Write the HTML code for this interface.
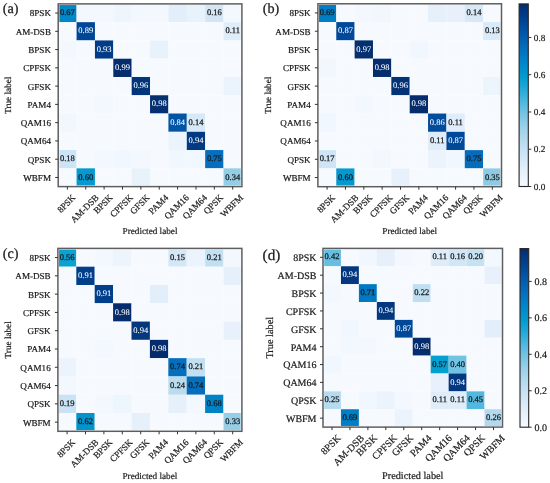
<!DOCTYPE html>
<html><head><meta charset="utf-8"><title>Confusion matrices</title>
<style>html,body{margin:0;padding:0;background:#fff;}svg{display:block;}text{text-rendering:geometricPrecision;}text{font-family:'Liberation Serif', 'Times New Roman', serif;}.k{stroke:#1a1a1a;stroke-width:0.2px;}.L{stroke:#1a1a1a;stroke-width:0.25px;}.w{stroke:#ffffff;stroke-width:0.05px;}.c{stroke:#1a1a1a;stroke-width:0.25px;}</style></head>
<body><svg width="550" height="483" viewBox="0 0 550 483">
<rect width="550" height="483" fill="#ffffff"/>
<rect x="58.2" y="3.9" width="18.42" height="18.32" fill="#0087c8"/>
<rect x="76.57" y="3.9" width="18.42" height="18.32" fill="#f3f8fe"/>
<rect x="94.94" y="3.9" width="18.42" height="18.32" fill="#f3f8fe"/>
<rect x="113.31" y="3.9" width="18.42" height="18.32" fill="#eef5fd"/>
<rect x="131.68" y="3.9" width="18.42" height="18.32" fill="#f3f8fe"/>
<rect x="150.05" y="3.9" width="18.42" height="18.32" fill="#f3f8fe"/>
<rect x="168.42" y="3.9" width="18.42" height="18.32" fill="#e2eefa"/>
<rect x="186.79" y="3.9" width="18.42" height="18.32" fill="#e8f2fb"/>
<rect x="205.16" y="3.9" width="18.42" height="18.32" fill="#d2e6f6"/>
<rect x="223.53" y="3.9" width="18.42" height="18.32" fill="#f3f8fe"/>
<rect x="58.2" y="22.17" width="18.42" height="18.32" fill="#f6faff"/>
<rect x="76.57" y="22.17" width="18.42" height="18.32" fill="#004696"/>
<rect x="94.94" y="22.17" width="18.42" height="18.32" fill="#f6faff"/>
<rect x="113.31" y="22.17" width="18.42" height="18.32" fill="#f6faff"/>
<rect x="131.68" y="22.17" width="18.42" height="18.32" fill="#f6faff"/>
<rect x="150.05" y="22.17" width="18.42" height="18.32" fill="#f6faff"/>
<rect x="168.42" y="22.17" width="18.42" height="18.32" fill="#f6faff"/>
<rect x="186.79" y="22.17" width="18.42" height="18.32" fill="#f6faff"/>
<rect x="205.16" y="22.17" width="18.42" height="18.32" fill="#f6faff"/>
<rect x="223.53" y="22.17" width="18.42" height="18.32" fill="#dfedf9"/>
<rect x="58.2" y="40.44" width="18.42" height="18.32" fill="#f3f8fe"/>
<rect x="76.57" y="40.44" width="18.42" height="18.32" fill="#f6faff"/>
<rect x="94.94" y="40.44" width="18.42" height="18.32" fill="#023c86"/>
<rect x="113.31" y="40.44" width="18.42" height="18.32" fill="#f6faff"/>
<rect x="131.68" y="40.44" width="18.42" height="18.32" fill="#f6faff"/>
<rect x="150.05" y="40.44" width="18.42" height="18.32" fill="#e8f2fb"/>
<rect x="168.42" y="40.44" width="18.42" height="18.32" fill="#f6faff"/>
<rect x="186.79" y="40.44" width="18.42" height="18.32" fill="#f6faff"/>
<rect x="205.16" y="40.44" width="18.42" height="18.32" fill="#f6faff"/>
<rect x="223.53" y="40.44" width="18.42" height="18.32" fill="#f6faff"/>
<rect x="58.2" y="58.71" width="18.42" height="18.32" fill="#f6faff"/>
<rect x="76.57" y="58.71" width="18.42" height="18.32" fill="#f6faff"/>
<rect x="94.94" y="58.71" width="18.42" height="18.32" fill="#f6faff"/>
<rect x="113.31" y="58.71" width="18.42" height="18.32" fill="#052d6e"/>
<rect x="131.68" y="58.71" width="18.42" height="18.32" fill="#f6faff"/>
<rect x="150.05" y="58.71" width="18.42" height="18.32" fill="#f6faff"/>
<rect x="168.42" y="58.71" width="18.42" height="18.32" fill="#f6faff"/>
<rect x="186.79" y="58.71" width="18.42" height="18.32" fill="#f6faff"/>
<rect x="205.16" y="58.71" width="18.42" height="18.32" fill="#f6faff"/>
<rect x="223.53" y="58.71" width="18.42" height="18.32" fill="#f6faff"/>
<rect x="58.2" y="76.98" width="18.42" height="18.32" fill="#f6faff"/>
<rect x="76.57" y="76.98" width="18.42" height="18.32" fill="#f6faff"/>
<rect x="94.94" y="76.98" width="18.42" height="18.32" fill="#f6faff"/>
<rect x="113.31" y="76.98" width="18.42" height="18.32" fill="#f6faff"/>
<rect x="131.68" y="76.98" width="18.42" height="18.32" fill="#03357a"/>
<rect x="150.05" y="76.98" width="18.42" height="18.32" fill="#f6faff"/>
<rect x="168.42" y="76.98" width="18.42" height="18.32" fill="#f6faff"/>
<rect x="186.79" y="76.98" width="18.42" height="18.32" fill="#f6faff"/>
<rect x="205.16" y="76.98" width="18.42" height="18.32" fill="#f6faff"/>
<rect x="223.53" y="76.98" width="18.42" height="18.32" fill="#ebf3fc"/>
<rect x="58.2" y="95.25" width="18.42" height="18.32" fill="#f6faff"/>
<rect x="76.57" y="95.25" width="18.42" height="18.32" fill="#f6faff"/>
<rect x="94.94" y="95.25" width="18.42" height="18.32" fill="#f3f8fe"/>
<rect x="113.31" y="95.25" width="18.42" height="18.32" fill="#f6faff"/>
<rect x="131.68" y="95.25" width="18.42" height="18.32" fill="#f6faff"/>
<rect x="150.05" y="95.25" width="18.42" height="18.32" fill="#043072"/>
<rect x="168.42" y="95.25" width="18.42" height="18.32" fill="#f6faff"/>
<rect x="186.79" y="95.25" width="18.42" height="18.32" fill="#f6faff"/>
<rect x="205.16" y="95.25" width="18.42" height="18.32" fill="#f6faff"/>
<rect x="223.53" y="95.25" width="18.42" height="18.32" fill="#f6faff"/>
<rect x="58.2" y="113.52" width="18.42" height="18.32" fill="#f2f7fe"/>
<rect x="76.57" y="113.52" width="18.42" height="18.32" fill="#f6faff"/>
<rect x="94.94" y="113.52" width="18.42" height="18.32" fill="#f6faff"/>
<rect x="113.31" y="113.52" width="18.42" height="18.32" fill="#f6faff"/>
<rect x="131.68" y="113.52" width="18.42" height="18.32" fill="#f6faff"/>
<rect x="150.05" y="113.52" width="18.42" height="18.32" fill="#f6faff"/>
<rect x="168.42" y="113.52" width="18.42" height="18.32" fill="#0255a5"/>
<rect x="186.79" y="113.52" width="18.42" height="18.32" fill="#d7e9f7"/>
<rect x="205.16" y="113.52" width="18.42" height="18.32" fill="#f6faff"/>
<rect x="223.53" y="113.52" width="18.42" height="18.32" fill="#f6faff"/>
<rect x="58.2" y="131.79" width="18.42" height="18.32" fill="#f6faff"/>
<rect x="76.57" y="131.79" width="18.42" height="18.32" fill="#f6faff"/>
<rect x="94.94" y="131.79" width="18.42" height="18.32" fill="#f6faff"/>
<rect x="113.31" y="131.79" width="18.42" height="18.32" fill="#f6faff"/>
<rect x="131.68" y="131.79" width="18.42" height="18.32" fill="#f6faff"/>
<rect x="150.05" y="131.79" width="18.42" height="18.32" fill="#f6faff"/>
<rect x="168.42" y="131.79" width="18.42" height="18.32" fill="#ebf3fc"/>
<rect x="186.79" y="131.79" width="18.42" height="18.32" fill="#023a82"/>
<rect x="205.16" y="131.79" width="18.42" height="18.32" fill="#f6faff"/>
<rect x="223.53" y="131.79" width="18.42" height="18.32" fill="#f6faff"/>
<rect x="58.2" y="150.06" width="18.42" height="18.32" fill="#cce4f5"/>
<rect x="76.57" y="150.06" width="18.42" height="18.32" fill="#f6faff"/>
<rect x="94.94" y="150.06" width="18.42" height="18.32" fill="#f3f8fe"/>
<rect x="113.31" y="150.06" width="18.42" height="18.32" fill="#f0f7fe"/>
<rect x="131.68" y="150.06" width="18.42" height="18.32" fill="#f3f8fe"/>
<rect x="150.05" y="150.06" width="18.42" height="18.32" fill="#f6faff"/>
<rect x="168.42" y="150.06" width="18.42" height="18.32" fill="#f0f7fe"/>
<rect x="186.79" y="150.06" width="18.42" height="18.32" fill="#f0f7fe"/>
<rect x="205.16" y="150.06" width="18.42" height="18.32" fill="#056ebe"/>
<rect x="223.53" y="150.06" width="18.42" height="18.32" fill="#f6faff"/>
<rect x="58.2" y="168.33" width="18.42" height="18.32" fill="#f6faff"/>
<rect x="76.57" y="168.33" width="18.42" height="18.32" fill="#0499d0"/>
<rect x="94.94" y="168.33" width="18.42" height="18.32" fill="#f6faff"/>
<rect x="113.31" y="168.33" width="18.42" height="18.32" fill="#f6faff"/>
<rect x="131.68" y="168.33" width="18.42" height="18.32" fill="#e8f2fb"/>
<rect x="150.05" y="168.33" width="18.42" height="18.32" fill="#f6faff"/>
<rect x="168.42" y="168.33" width="18.42" height="18.32" fill="#f6faff"/>
<rect x="186.79" y="168.33" width="18.42" height="18.32" fill="#f6faff"/>
<rect x="205.16" y="168.33" width="18.42" height="18.32" fill="#f6faff"/>
<rect x="223.53" y="168.33" width="18.42" height="18.32" fill="#94cde6"/>
<text class="c" x="67.39" y="15.13" font-size="8.5" fill="#1a1a1a" text-anchor="middle">0.67</text>
<text class="c" x="214.34" y="15.13" font-size="8.5" fill="#1a1a1a" text-anchor="middle">0.16</text>
<text class="w" x="85.75" y="33.41" font-size="8.5" fill="#ffffff" text-anchor="middle">0.89</text>
<text class="c" x="232.71" y="33.41" font-size="8.5" fill="#1a1a1a" text-anchor="middle">0.11</text>
<text class="w" x="104.12" y="51.67" font-size="8.5" fill="#ffffff" text-anchor="middle">0.93</text>
<text class="w" x="122.49" y="69.94" font-size="8.5" fill="#ffffff" text-anchor="middle">0.99</text>
<text class="w" x="140.87" y="88.22" font-size="8.5" fill="#ffffff" text-anchor="middle">0.96</text>
<text class="w" x="159.23" y="106.48" font-size="8.5" fill="#ffffff" text-anchor="middle">0.98</text>
<text class="w" x="177.6" y="124.75" font-size="8.5" fill="#ffffff" text-anchor="middle">0.84</text>
<text class="c" x="195.97" y="124.75" font-size="8.5" fill="#1a1a1a" text-anchor="middle">0.14</text>
<text class="w" x="195.97" y="143.03" font-size="8.5" fill="#ffffff" text-anchor="middle">0.94</text>
<text class="c" x="67.39" y="161.29" font-size="8.5" fill="#1a1a1a" text-anchor="middle">0.18</text>
<text class="c" x="214.34" y="161.29" font-size="8.5" fill="#1a1a1a" text-anchor="middle">0.75</text>
<text class="c" x="85.75" y="179.56" font-size="8.5" fill="#1a1a1a" text-anchor="middle">0.60</text>
<text class="c" x="232.71" y="179.56" font-size="8.5" fill="#1a1a1a" text-anchor="middle">0.34</text>
<rect x="58.2" y="3.9" width="183.7" height="182.7" fill="none" stroke="#ffffff" stroke-width="2.3"/>
<rect x="58.2" y="3.9" width="183.7" height="182.7" fill="none" stroke="#5e5e5e" stroke-width="1.5"/>
<line x1="55.2" y1="13.04" x2="58.2" y2="13.04" stroke="#333333" stroke-width="1.0"/>
<line x1="67.39" y1="186.6" x2="67.39" y2="189.6" stroke="#333333" stroke-width="1.0"/>
<line x1="55.2" y1="31.3" x2="58.2" y2="31.3" stroke="#333333" stroke-width="1.0"/>
<line x1="85.75" y1="186.6" x2="85.75" y2="189.6" stroke="#333333" stroke-width="1.0"/>
<line x1="55.2" y1="49.57" x2="58.2" y2="49.57" stroke="#333333" stroke-width="1.0"/>
<line x1="104.12" y1="186.6" x2="104.12" y2="189.6" stroke="#333333" stroke-width="1.0"/>
<line x1="55.2" y1="67.84" x2="58.2" y2="67.84" stroke="#333333" stroke-width="1.0"/>
<line x1="122.49" y1="186.6" x2="122.49" y2="189.6" stroke="#333333" stroke-width="1.0"/>
<line x1="55.2" y1="86.12" x2="58.2" y2="86.12" stroke="#333333" stroke-width="1.0"/>
<line x1="140.87" y1="186.6" x2="140.87" y2="189.6" stroke="#333333" stroke-width="1.0"/>
<line x1="55.2" y1="104.39" x2="58.2" y2="104.39" stroke="#333333" stroke-width="1.0"/>
<line x1="159.23" y1="186.6" x2="159.23" y2="189.6" stroke="#333333" stroke-width="1.0"/>
<line x1="55.2" y1="122.66" x2="58.2" y2="122.66" stroke="#333333" stroke-width="1.0"/>
<line x1="177.6" y1="186.6" x2="177.6" y2="189.6" stroke="#333333" stroke-width="1.0"/>
<line x1="55.2" y1="140.93" x2="58.2" y2="140.93" stroke="#333333" stroke-width="1.0"/>
<line x1="195.97" y1="186.6" x2="195.97" y2="189.6" stroke="#333333" stroke-width="1.0"/>
<line x1="55.2" y1="159.19" x2="58.2" y2="159.19" stroke="#333333" stroke-width="1.0"/>
<line x1="214.34" y1="186.6" x2="214.34" y2="189.6" stroke="#333333" stroke-width="1.0"/>
<line x1="55.2" y1="177.47" x2="58.2" y2="177.47" stroke="#333333" stroke-width="1.0"/>
<line x1="232.71" y1="186.6" x2="232.71" y2="189.6" stroke="#333333" stroke-width="1.0"/>
<text class="k" x="51" y="16.43" font-size="9.1" fill="#1a1a1a" text-anchor="end">8PSK</text>
<text class="k" x="51" y="34.7" font-size="9.1" fill="#1a1a1a" text-anchor="end">AM-DSB</text>
<text class="k" x="51" y="52.97" font-size="9.1" fill="#1a1a1a" text-anchor="end">BPSK</text>
<text class="k" x="51" y="71.25" font-size="9.1" fill="#1a1a1a" text-anchor="end">CPFSK</text>
<text class="k" x="51" y="89.52" font-size="9.1" fill="#1a1a1a" text-anchor="end">GFSK</text>
<text class="k" x="51" y="107.79" font-size="9.1" fill="#1a1a1a" text-anchor="end">PAM4</text>
<text class="k" x="51" y="126.06" font-size="9.1" fill="#1a1a1a" text-anchor="end">QAM16</text>
<text class="k" x="51" y="144.33" font-size="9.1" fill="#1a1a1a" text-anchor="end">QAM64</text>
<text class="k" x="51" y="162.59" font-size="9.1" fill="#1a1a1a" text-anchor="end">QPSK</text>
<text class="k" x="51" y="180.87" font-size="9.1" fill="#1a1a1a" text-anchor="end">WBFM</text>
<text class="k" x="75.95" y="198.2" font-size="9.1" fill="#1a1a1a" text-anchor="end" transform="rotate(-45 75.95 198.2)">8PSK</text>
<text class="k" x="99.33" y="198.2" font-size="9.1" fill="#1a1a1a" text-anchor="end" transform="rotate(-45 99.33 198.2)">AM-DSB</text>
<text class="k" x="113.23" y="198.2" font-size="9.1" fill="#1a1a1a" text-anchor="end" transform="rotate(-45 113.23 198.2)">BPSK</text>
<text class="k" x="133.39" y="198.2" font-size="9.1" fill="#1a1a1a" text-anchor="end" transform="rotate(-45 133.39 198.2)">CPFSK</text>
<text class="k" x="150.15" y="198.2" font-size="9.1" fill="#1a1a1a" text-anchor="end" transform="rotate(-45 150.15 198.2)">GFSK</text>
<text class="k" x="168.88" y="198.2" font-size="9.1" fill="#1a1a1a" text-anchor="end" transform="rotate(-45 168.88 198.2)">PAM4</text>
<text class="k" x="189.39" y="198.2" font-size="9.1" fill="#1a1a1a" text-anchor="end" transform="rotate(-45 189.39 198.2)">QAM16</text>
<text class="k" x="207.76" y="198.2" font-size="9.1" fill="#1a1a1a" text-anchor="end" transform="rotate(-45 207.76 198.2)">QAM64</text>
<text class="k" x="223.63" y="198.2" font-size="9.1" fill="#1a1a1a" text-anchor="end" transform="rotate(-45 223.63 198.2)">QPSK</text>
<text class="k" x="243.61" y="198.2" font-size="9.1" fill="#1a1a1a" text-anchor="end" transform="rotate(-45 243.61 198.2)">WBFM</text>
<text class="k" x="150.05" y="234.1" font-size="9.2" fill="#1a1a1a" text-anchor="middle">Predicted label</text>
<text class="k" x="10.9" y="95.25" font-size="9.2" fill="#1a1a1a" text-anchor="middle" transform="rotate(-90 10.9 95.25)">True label</text>
<text class="L" x="2.7" y="13.1" font-size="14.2" fill="#1a1a1a">(a)</text>
<rect x="317.9" y="3.8" width="18.41" height="18.34" fill="#007ec5"/>
<rect x="336.26" y="3.8" width="18.41" height="18.34" fill="#f6faff"/>
<rect x="354.62" y="3.8" width="18.41" height="18.34" fill="#f3f8fe"/>
<rect x="372.98" y="3.8" width="18.41" height="18.34" fill="#f2f7fe"/>
<rect x="391.34" y="3.8" width="18.41" height="18.34" fill="#f6faff"/>
<rect x="409.7" y="3.8" width="18.41" height="18.34" fill="#f6faff"/>
<rect x="428.06" y="3.8" width="18.41" height="18.34" fill="#e5f0fb"/>
<rect x="446.42" y="3.8" width="18.41" height="18.34" fill="#e8f1fb"/>
<rect x="464.78" y="3.8" width="18.41" height="18.34" fill="#d7e9f7"/>
<rect x="483.14" y="3.8" width="18.41" height="18.34" fill="#f6faff"/>
<rect x="317.9" y="22.09" width="18.41" height="18.34" fill="#f6faff"/>
<rect x="336.26" y="22.09" width="18.41" height="18.34" fill="#004999"/>
<rect x="354.62" y="22.09" width="18.41" height="18.34" fill="#f6faff"/>
<rect x="372.98" y="22.09" width="18.41" height="18.34" fill="#f6faff"/>
<rect x="391.34" y="22.09" width="18.41" height="18.34" fill="#f6faff"/>
<rect x="409.7" y="22.09" width="18.41" height="18.34" fill="#f6faff"/>
<rect x="428.06" y="22.09" width="18.41" height="18.34" fill="#f6faff"/>
<rect x="446.42" y="22.09" width="18.41" height="18.34" fill="#f6faff"/>
<rect x="464.78" y="22.09" width="18.41" height="18.34" fill="#f6faff"/>
<rect x="483.14" y="22.09" width="18.41" height="18.34" fill="#d9eaf8"/>
<rect x="317.9" y="40.38" width="18.41" height="18.34" fill="#f6faff"/>
<rect x="336.26" y="40.38" width="18.41" height="18.34" fill="#f6faff"/>
<rect x="354.62" y="40.38" width="18.41" height="18.34" fill="#043072"/>
<rect x="372.98" y="40.38" width="18.41" height="18.34" fill="#f6faff"/>
<rect x="391.34" y="40.38" width="18.41" height="18.34" fill="#f6faff"/>
<rect x="409.7" y="40.38" width="18.41" height="18.34" fill="#f0f7fe"/>
<rect x="428.06" y="40.38" width="18.41" height="18.34" fill="#f6faff"/>
<rect x="446.42" y="40.38" width="18.41" height="18.34" fill="#f6faff"/>
<rect x="464.78" y="40.38" width="18.41" height="18.34" fill="#f6faff"/>
<rect x="483.14" y="40.38" width="18.41" height="18.34" fill="#f6faff"/>
<rect x="317.9" y="58.67" width="18.41" height="18.34" fill="#f2f7fe"/>
<rect x="336.26" y="58.67" width="18.41" height="18.34" fill="#f6faff"/>
<rect x="354.62" y="58.67" width="18.41" height="18.34" fill="#f6faff"/>
<rect x="372.98" y="58.67" width="18.41" height="18.34" fill="#052d6e"/>
<rect x="391.34" y="58.67" width="18.41" height="18.34" fill="#f6faff"/>
<rect x="409.7" y="58.67" width="18.41" height="18.34" fill="#f6faff"/>
<rect x="428.06" y="58.67" width="18.41" height="18.34" fill="#f6faff"/>
<rect x="446.42" y="58.67" width="18.41" height="18.34" fill="#f6faff"/>
<rect x="464.78" y="58.67" width="18.41" height="18.34" fill="#f6faff"/>
<rect x="483.14" y="58.67" width="18.41" height="18.34" fill="#f6faff"/>
<rect x="317.9" y="76.96" width="18.41" height="18.34" fill="#f6faff"/>
<rect x="336.26" y="76.96" width="18.41" height="18.34" fill="#f6faff"/>
<rect x="354.62" y="76.96" width="18.41" height="18.34" fill="#f6faff"/>
<rect x="372.98" y="76.96" width="18.41" height="18.34" fill="#f6faff"/>
<rect x="391.34" y="76.96" width="18.41" height="18.34" fill="#043276"/>
<rect x="409.7" y="76.96" width="18.41" height="18.34" fill="#f6faff"/>
<rect x="428.06" y="76.96" width="18.41" height="18.34" fill="#f6faff"/>
<rect x="446.42" y="76.96" width="18.41" height="18.34" fill="#f6faff"/>
<rect x="464.78" y="76.96" width="18.41" height="18.34" fill="#f6faff"/>
<rect x="483.14" y="76.96" width="18.41" height="18.34" fill="#ecf4fc"/>
<rect x="317.9" y="95.25" width="18.41" height="18.34" fill="#f6faff"/>
<rect x="336.26" y="95.25" width="18.41" height="18.34" fill="#f6faff"/>
<rect x="354.62" y="95.25" width="18.41" height="18.34" fill="#f3f8fe"/>
<rect x="372.98" y="95.25" width="18.41" height="18.34" fill="#f6faff"/>
<rect x="391.34" y="95.25" width="18.41" height="18.34" fill="#f6faff"/>
<rect x="409.7" y="95.25" width="18.41" height="18.34" fill="#052d6e"/>
<rect x="428.06" y="95.25" width="18.41" height="18.34" fill="#f6faff"/>
<rect x="446.42" y="95.25" width="18.41" height="18.34" fill="#f6faff"/>
<rect x="464.78" y="95.25" width="18.41" height="18.34" fill="#f6faff"/>
<rect x="483.14" y="95.25" width="18.41" height="18.34" fill="#f6faff"/>
<rect x="317.9" y="113.54" width="18.41" height="18.34" fill="#f0f7fe"/>
<rect x="336.26" y="113.54" width="18.41" height="18.34" fill="#f6faff"/>
<rect x="354.62" y="113.54" width="18.41" height="18.34" fill="#f6faff"/>
<rect x="372.98" y="113.54" width="18.41" height="18.34" fill="#f6faff"/>
<rect x="391.34" y="113.54" width="18.41" height="18.34" fill="#f6faff"/>
<rect x="409.7" y="113.54" width="18.41" height="18.34" fill="#f6faff"/>
<rect x="428.06" y="113.54" width="18.41" height="18.34" fill="#014c9c"/>
<rect x="446.42" y="113.54" width="18.41" height="18.34" fill="#dfecf9"/>
<rect x="464.78" y="113.54" width="18.41" height="18.34" fill="#f6faff"/>
<rect x="483.14" y="113.54" width="18.41" height="18.34" fill="#f6faff"/>
<rect x="317.9" y="131.83" width="18.41" height="18.34" fill="#f6faff"/>
<rect x="336.26" y="131.83" width="18.41" height="18.34" fill="#f6faff"/>
<rect x="354.62" y="131.83" width="18.41" height="18.34" fill="#f6faff"/>
<rect x="372.98" y="131.83" width="18.41" height="18.34" fill="#f6faff"/>
<rect x="391.34" y="131.83" width="18.41" height="18.34" fill="#f6faff"/>
<rect x="409.7" y="131.83" width="18.41" height="18.34" fill="#f6faff"/>
<rect x="428.06" y="131.83" width="18.41" height="18.34" fill="#dfecf9"/>
<rect x="446.42" y="131.83" width="18.41" height="18.34" fill="#004999"/>
<rect x="464.78" y="131.83" width="18.41" height="18.34" fill="#f6faff"/>
<rect x="483.14" y="131.83" width="18.41" height="18.34" fill="#f6faff"/>
<rect x="317.9" y="150.12" width="18.41" height="18.34" fill="#cfe5f5"/>
<rect x="336.26" y="150.12" width="18.41" height="18.34" fill="#f6faff"/>
<rect x="354.62" y="150.12" width="18.41" height="18.34" fill="#f6faff"/>
<rect x="372.98" y="150.12" width="18.41" height="18.34" fill="#f3f8fe"/>
<rect x="391.34" y="150.12" width="18.41" height="18.34" fill="#f6faff"/>
<rect x="409.7" y="150.12" width="18.41" height="18.34" fill="#f6faff"/>
<rect x="428.06" y="150.12" width="18.41" height="18.34" fill="#ebf3fc"/>
<rect x="446.42" y="150.12" width="18.41" height="18.34" fill="#f0f7fe"/>
<rect x="464.78" y="150.12" width="18.41" height="18.34" fill="#056cbc"/>
<rect x="483.14" y="150.12" width="18.41" height="18.34" fill="#f6faff"/>
<rect x="317.9" y="168.41" width="18.41" height="18.34" fill="#f6faff"/>
<rect x="336.26" y="168.41" width="18.41" height="18.34" fill="#0398d0"/>
<rect x="354.62" y="168.41" width="18.41" height="18.34" fill="#f6faff"/>
<rect x="372.98" y="168.41" width="18.41" height="18.34" fill="#f6faff"/>
<rect x="391.34" y="168.41" width="18.41" height="18.34" fill="#e8f1fb"/>
<rect x="409.7" y="168.41" width="18.41" height="18.34" fill="#f6faff"/>
<rect x="428.06" y="168.41" width="18.41" height="18.34" fill="#f6faff"/>
<rect x="446.42" y="168.41" width="18.41" height="18.34" fill="#f6faff"/>
<rect x="464.78" y="168.41" width="18.41" height="18.34" fill="#f6faff"/>
<rect x="483.14" y="168.41" width="18.41" height="18.34" fill="#8dcbe5"/>
<text class="c" x="327.08" y="15.04" font-size="8.5" fill="#1a1a1a" text-anchor="middle">0.69</text>
<text class="c" x="473.96" y="15.04" font-size="8.5" fill="#1a1a1a" text-anchor="middle">0.14</text>
<text class="w" x="345.44" y="33.34" font-size="8.5" fill="#ffffff" text-anchor="middle">0.87</text>
<text class="c" x="492.32" y="33.34" font-size="8.5" fill="#1a1a1a" text-anchor="middle">0.13</text>
<text class="w" x="363.8" y="51.62" font-size="8.5" fill="#ffffff" text-anchor="middle">0.97</text>
<text class="w" x="382.16" y="69.91" font-size="8.5" fill="#ffffff" text-anchor="middle">0.98</text>
<text class="w" x="400.52" y="88.2" font-size="8.5" fill="#ffffff" text-anchor="middle">0.96</text>
<text class="w" x="418.88" y="106.49" font-size="8.5" fill="#ffffff" text-anchor="middle">0.98</text>
<text class="w" x="437.24" y="124.78" font-size="8.5" fill="#ffffff" text-anchor="middle">0.86</text>
<text class="c" x="455.6" y="124.78" font-size="8.5" fill="#1a1a1a" text-anchor="middle">0.11</text>
<text class="c" x="437.24" y="143.07" font-size="8.5" fill="#1a1a1a" text-anchor="middle">0.11</text>
<text class="w" x="455.6" y="143.07" font-size="8.5" fill="#ffffff" text-anchor="middle">0.87</text>
<text class="c" x="327.08" y="161.37" font-size="8.5" fill="#1a1a1a" text-anchor="middle">0.17</text>
<text class="c" x="473.96" y="161.37" font-size="8.5" fill="#1a1a1a" text-anchor="middle">0.75</text>
<text class="c" x="345.44" y="179.66" font-size="8.5" fill="#1a1a1a" text-anchor="middle">0.60</text>
<text class="c" x="492.32" y="179.66" font-size="8.5" fill="#1a1a1a" text-anchor="middle">0.35</text>
<rect x="317.9" y="3.8" width="183.6" height="182.9" fill="none" stroke="#ffffff" stroke-width="2.3"/>
<rect x="317.9" y="3.8" width="183.6" height="182.9" fill="none" stroke="#5e5e5e" stroke-width="1.5"/>
<line x1="314.9" y1="12.95" x2="317.9" y2="12.95" stroke="#333333" stroke-width="1.0"/>
<line x1="327.08" y1="186.7" x2="327.08" y2="189.7" stroke="#333333" stroke-width="1.0"/>
<line x1="314.9" y1="31.23" x2="317.9" y2="31.23" stroke="#333333" stroke-width="1.0"/>
<line x1="345.44" y1="186.7" x2="345.44" y2="189.7" stroke="#333333" stroke-width="1.0"/>
<line x1="314.9" y1="49.52" x2="317.9" y2="49.52" stroke="#333333" stroke-width="1.0"/>
<line x1="363.8" y1="186.7" x2="363.8" y2="189.7" stroke="#333333" stroke-width="1.0"/>
<line x1="314.9" y1="67.81" x2="317.9" y2="67.81" stroke="#333333" stroke-width="1.0"/>
<line x1="382.16" y1="186.7" x2="382.16" y2="189.7" stroke="#333333" stroke-width="1.0"/>
<line x1="314.9" y1="86.1" x2="317.9" y2="86.1" stroke="#333333" stroke-width="1.0"/>
<line x1="400.52" y1="186.7" x2="400.52" y2="189.7" stroke="#333333" stroke-width="1.0"/>
<line x1="314.9" y1="104.39" x2="317.9" y2="104.39" stroke="#333333" stroke-width="1.0"/>
<line x1="418.88" y1="186.7" x2="418.88" y2="189.7" stroke="#333333" stroke-width="1.0"/>
<line x1="314.9" y1="122.68" x2="317.9" y2="122.68" stroke="#333333" stroke-width="1.0"/>
<line x1="437.24" y1="186.7" x2="437.24" y2="189.7" stroke="#333333" stroke-width="1.0"/>
<line x1="314.9" y1="140.97" x2="317.9" y2="140.97" stroke="#333333" stroke-width="1.0"/>
<line x1="455.6" y1="186.7" x2="455.6" y2="189.7" stroke="#333333" stroke-width="1.0"/>
<line x1="314.9" y1="159.27" x2="317.9" y2="159.27" stroke="#333333" stroke-width="1.0"/>
<line x1="473.96" y1="186.7" x2="473.96" y2="189.7" stroke="#333333" stroke-width="1.0"/>
<line x1="314.9" y1="177.56" x2="317.9" y2="177.56" stroke="#333333" stroke-width="1.0"/>
<line x1="492.32" y1="186.7" x2="492.32" y2="189.7" stroke="#333333" stroke-width="1.0"/>
<text class="k" x="310.7" y="16.34" font-size="9.1" fill="#1a1a1a" text-anchor="end">8PSK</text>
<text class="k" x="310.7" y="34.63" font-size="9.1" fill="#1a1a1a" text-anchor="end">AM-DSB</text>
<text class="k" x="310.7" y="52.92" font-size="9.1" fill="#1a1a1a" text-anchor="end">BPSK</text>
<text class="k" x="310.7" y="71.22" font-size="9.1" fill="#1a1a1a" text-anchor="end">CPFSK</text>
<text class="k" x="310.7" y="89.5" font-size="9.1" fill="#1a1a1a" text-anchor="end">GFSK</text>
<text class="k" x="310.7" y="107.8" font-size="9.1" fill="#1a1a1a" text-anchor="end">PAM4</text>
<text class="k" x="310.7" y="126.08" font-size="9.1" fill="#1a1a1a" text-anchor="end">QAM16</text>
<text class="k" x="310.7" y="144.38" font-size="9.1" fill="#1a1a1a" text-anchor="end">QAM64</text>
<text class="k" x="310.7" y="162.67" font-size="9.1" fill="#1a1a1a" text-anchor="end">QPSK</text>
<text class="k" x="310.7" y="180.96" font-size="9.1" fill="#1a1a1a" text-anchor="end">WBFM</text>
<text class="k" x="335.65" y="198.3" font-size="9.1" fill="#1a1a1a" text-anchor="end" transform="rotate(-45 335.65 198.3)">8PSK</text>
<text class="k" x="359.01" y="198.3" font-size="9.1" fill="#1a1a1a" text-anchor="end" transform="rotate(-45 359.01 198.3)">AM-DSB</text>
<text class="k" x="372.91" y="198.3" font-size="9.1" fill="#1a1a1a" text-anchor="end" transform="rotate(-45 372.91 198.3)">BPSK</text>
<text class="k" x="393.06" y="198.3" font-size="9.1" fill="#1a1a1a" text-anchor="end" transform="rotate(-45 393.06 198.3)">CPFSK</text>
<text class="k" x="409.8" y="198.3" font-size="9.1" fill="#1a1a1a" text-anchor="end" transform="rotate(-45 409.8 198.3)">GFSK</text>
<text class="k" x="428.52" y="198.3" font-size="9.1" fill="#1a1a1a" text-anchor="end" transform="rotate(-45 428.52 198.3)">PAM4</text>
<text class="k" x="449.02" y="198.3" font-size="9.1" fill="#1a1a1a" text-anchor="end" transform="rotate(-45 449.02 198.3)">QAM16</text>
<text class="k" x="467.38" y="198.3" font-size="9.1" fill="#1a1a1a" text-anchor="end" transform="rotate(-45 467.38 198.3)">QAM64</text>
<text class="k" x="483.24" y="198.3" font-size="9.1" fill="#1a1a1a" text-anchor="end" transform="rotate(-45 483.24 198.3)">QPSK</text>
<text class="k" x="503.21" y="198.3" font-size="9.1" fill="#1a1a1a" text-anchor="end" transform="rotate(-45 503.21 198.3)">WBFM</text>
<text class="k" x="409.7" y="234.1" font-size="9.2" fill="#1a1a1a" text-anchor="middle">Predicted label</text>
<text class="k" x="270.8" y="95.25" font-size="9.2" fill="#1a1a1a" text-anchor="middle" transform="rotate(-90 270.8 95.25)">True label</text>
<text class="L" x="262.7" y="13.2" font-size="14.2" fill="#1a1a1a">(b)</text>
<defs><linearGradient id="gb" x1="0" y1="0" x2="0" y2="1"><stop offset="0.00" stop-color="#052d6e"/><stop offset="0.05" stop-color="#033982"/><stop offset="0.10" stop-color="#004696"/><stop offset="0.15" stop-color="#0254a4"/><stop offset="0.20" stop-color="#0462b2"/><stop offset="0.25" stop-color="#0470bf"/><stop offset="0.30" stop-color="#0080c6"/><stop offset="0.35" stop-color="#018ecb"/><stop offset="0.40" stop-color="#049bd0"/><stop offset="0.45" stop-color="#18a6d5"/><stop offset="0.50" stop-color="#37b0da"/><stop offset="0.55" stop-color="#58badf"/><stop offset="0.60" stop-color="#76c3e3"/><stop offset="0.65" stop-color="#90cce6"/><stop offset="0.70" stop-color="#a5d4ea"/><stop offset="0.75" stop-color="#b7dbef"/><stop offset="0.80" stop-color="#c7e2f3"/><stop offset="0.85" stop-color="#d5e8f7"/><stop offset="0.90" stop-color="#e2eefa"/><stop offset="0.95" stop-color="#ecf4fc"/><stop offset="1.00" stop-color="#f6faff"/></linearGradient></defs>
<rect x="519.1" y="3.9" width="9.2" height="182.6" fill="url(#gb)"/>
<rect x="519.1" y="3.9" width="9.2" height="182.6" fill="none" stroke="#262626" stroke-width="1.1"/>
<line x1="528.3" y1="186.5" x2="531.3" y2="186.5" stroke="#333333" stroke-width="1.0"/>
<text class="k" x="533.8" y="189.6" font-size="9.2" fill="#1a1a1a">0.0</text>
<line x1="528.3" y1="149.23" x2="531.3" y2="149.23" stroke="#333333" stroke-width="1.0"/>
<text class="k" x="533.8" y="152.33" font-size="9.2" fill="#1a1a1a">0.2</text>
<line x1="528.3" y1="111.97" x2="531.3" y2="111.97" stroke="#333333" stroke-width="1.0"/>
<text class="k" x="533.8" y="115.07" font-size="9.2" fill="#1a1a1a">0.4</text>
<line x1="528.3" y1="74.7" x2="531.3" y2="74.7" stroke="#333333" stroke-width="1.0"/>
<text class="k" x="533.8" y="77.8" font-size="9.2" fill="#1a1a1a">0.6</text>
<line x1="528.3" y1="37.44" x2="531.3" y2="37.44" stroke="#333333" stroke-width="1.0"/>
<text class="k" x="533.8" y="40.54" font-size="9.2" fill="#1a1a1a">0.8</text>
<rect x="57.9" y="248.4" width="18.45" height="18.34" fill="#0aa2d3"/>
<rect x="76.3" y="248.4" width="18.45" height="18.34" fill="#f6faff"/>
<rect x="94.7" y="248.4" width="18.45" height="18.34" fill="#f3f8fe"/>
<rect x="113.1" y="248.4" width="18.45" height="18.34" fill="#ecf4fc"/>
<rect x="131.5" y="248.4" width="18.45" height="18.34" fill="#f6faff"/>
<rect x="149.9" y="248.4" width="18.45" height="18.34" fill="#f6faff"/>
<rect x="168.3" y="248.4" width="18.45" height="18.34" fill="#d4e7f7"/>
<rect x="186.7" y="248.4" width="18.45" height="18.34" fill="#ebf3fc"/>
<rect x="205.1" y="248.4" width="18.45" height="18.34" fill="#c2e0f2"/>
<rect x="223.5" y="248.4" width="18.45" height="18.34" fill="#f3f8fe"/>
<rect x="57.9" y="266.69" width="18.45" height="18.34" fill="#f6faff"/>
<rect x="76.3" y="266.69" width="18.45" height="18.34" fill="#013f8a"/>
<rect x="94.7" y="266.69" width="18.45" height="18.34" fill="#f6faff"/>
<rect x="113.1" y="266.69" width="18.45" height="18.34" fill="#f6faff"/>
<rect x="131.5" y="266.69" width="18.45" height="18.34" fill="#f6faff"/>
<rect x="149.9" y="266.69" width="18.45" height="18.34" fill="#f6faff"/>
<rect x="168.3" y="266.69" width="18.45" height="18.34" fill="#f6faff"/>
<rect x="186.7" y="266.69" width="18.45" height="18.34" fill="#f6faff"/>
<rect x="205.1" y="266.69" width="18.45" height="18.34" fill="#f6faff"/>
<rect x="223.5" y="266.69" width="18.45" height="18.34" fill="#e5f0fb"/>
<rect x="57.9" y="284.98" width="18.45" height="18.34" fill="#f6faff"/>
<rect x="76.3" y="284.98" width="18.45" height="18.34" fill="#f6faff"/>
<rect x="94.7" y="284.98" width="18.45" height="18.34" fill="#013f8a"/>
<rect x="113.1" y="284.98" width="18.45" height="18.34" fill="#f6faff"/>
<rect x="131.5" y="284.98" width="18.45" height="18.34" fill="#f6faff"/>
<rect x="149.9" y="284.98" width="18.45" height="18.34" fill="#e2eefa"/>
<rect x="168.3" y="284.98" width="18.45" height="18.34" fill="#f6faff"/>
<rect x="186.7" y="284.98" width="18.45" height="18.34" fill="#f6faff"/>
<rect x="205.1" y="284.98" width="18.45" height="18.34" fill="#f6faff"/>
<rect x="223.5" y="284.98" width="18.45" height="18.34" fill="#f6faff"/>
<rect x="57.9" y="303.27" width="18.45" height="18.34" fill="#f6faff"/>
<rect x="76.3" y="303.27" width="18.45" height="18.34" fill="#f6faff"/>
<rect x="94.7" y="303.27" width="18.45" height="18.34" fill="#f6faff"/>
<rect x="113.1" y="303.27" width="18.45" height="18.34" fill="#052d6e"/>
<rect x="131.5" y="303.27" width="18.45" height="18.34" fill="#f6faff"/>
<rect x="149.9" y="303.27" width="18.45" height="18.34" fill="#f6faff"/>
<rect x="168.3" y="303.27" width="18.45" height="18.34" fill="#f6faff"/>
<rect x="186.7" y="303.27" width="18.45" height="18.34" fill="#f6faff"/>
<rect x="205.1" y="303.27" width="18.45" height="18.34" fill="#f6faff"/>
<rect x="223.5" y="303.27" width="18.45" height="18.34" fill="#f6faff"/>
<rect x="57.9" y="321.56" width="18.45" height="18.34" fill="#f6faff"/>
<rect x="76.3" y="321.56" width="18.45" height="18.34" fill="#f6faff"/>
<rect x="94.7" y="321.56" width="18.45" height="18.34" fill="#f6faff"/>
<rect x="113.1" y="321.56" width="18.45" height="18.34" fill="#f6faff"/>
<rect x="131.5" y="321.56" width="18.45" height="18.34" fill="#03377e"/>
<rect x="149.9" y="321.56" width="18.45" height="18.34" fill="#f6faff"/>
<rect x="168.3" y="321.56" width="18.45" height="18.34" fill="#f6faff"/>
<rect x="186.7" y="321.56" width="18.45" height="18.34" fill="#f6faff"/>
<rect x="205.1" y="321.56" width="18.45" height="18.34" fill="#f6faff"/>
<rect x="223.5" y="321.56" width="18.45" height="18.34" fill="#e8f1fb"/>
<rect x="57.9" y="339.85" width="18.45" height="18.34" fill="#f6faff"/>
<rect x="76.3" y="339.85" width="18.45" height="18.34" fill="#f6faff"/>
<rect x="94.7" y="339.85" width="18.45" height="18.34" fill="#f3f8fe"/>
<rect x="113.1" y="339.85" width="18.45" height="18.34" fill="#f6faff"/>
<rect x="131.5" y="339.85" width="18.45" height="18.34" fill="#f6faff"/>
<rect x="149.9" y="339.85" width="18.45" height="18.34" fill="#052d6e"/>
<rect x="168.3" y="339.85" width="18.45" height="18.34" fill="#f6faff"/>
<rect x="186.7" y="339.85" width="18.45" height="18.34" fill="#f6faff"/>
<rect x="205.1" y="339.85" width="18.45" height="18.34" fill="#f6faff"/>
<rect x="223.5" y="339.85" width="18.45" height="18.34" fill="#f6faff"/>
<rect x="57.9" y="358.14" width="18.45" height="18.34" fill="#ebf3fc"/>
<rect x="76.3" y="358.14" width="18.45" height="18.34" fill="#f6faff"/>
<rect x="94.7" y="358.14" width="18.45" height="18.34" fill="#f6faff"/>
<rect x="113.1" y="358.14" width="18.45" height="18.34" fill="#f6faff"/>
<rect x="131.5" y="358.14" width="18.45" height="18.34" fill="#f6faff"/>
<rect x="149.9" y="358.14" width="18.45" height="18.34" fill="#f6faff"/>
<rect x="168.3" y="358.14" width="18.45" height="18.34" fill="#056fbe"/>
<rect x="186.7" y="358.14" width="18.45" height="18.34" fill="#c2e0f2"/>
<rect x="205.1" y="358.14" width="18.45" height="18.34" fill="#f6faff"/>
<rect x="223.5" y="358.14" width="18.45" height="18.34" fill="#f6faff"/>
<rect x="57.9" y="376.43" width="18.45" height="18.34" fill="#f3f8fe"/>
<rect x="76.3" y="376.43" width="18.45" height="18.34" fill="#f6faff"/>
<rect x="94.7" y="376.43" width="18.45" height="18.34" fill="#f6faff"/>
<rect x="113.1" y="376.43" width="18.45" height="18.34" fill="#f6faff"/>
<rect x="131.5" y="376.43" width="18.45" height="18.34" fill="#f6faff"/>
<rect x="149.9" y="376.43" width="18.45" height="18.34" fill="#f6faff"/>
<rect x="168.3" y="376.43" width="18.45" height="18.34" fill="#b9dcef"/>
<rect x="186.7" y="376.43" width="18.45" height="18.34" fill="#056fbe"/>
<rect x="205.1" y="376.43" width="18.45" height="18.34" fill="#f6faff"/>
<rect x="223.5" y="376.43" width="18.45" height="18.34" fill="#f6faff"/>
<rect x="57.9" y="394.72" width="18.45" height="18.34" fill="#c9e2f4"/>
<rect x="76.3" y="394.72" width="18.45" height="18.34" fill="#f6faff"/>
<rect x="94.7" y="394.72" width="18.45" height="18.34" fill="#f3f8fe"/>
<rect x="113.1" y="394.72" width="18.45" height="18.34" fill="#edf5fd"/>
<rect x="131.5" y="394.72" width="18.45" height="18.34" fill="#f6faff"/>
<rect x="149.9" y="394.72" width="18.45" height="18.34" fill="#f6faff"/>
<rect x="168.3" y="394.72" width="18.45" height="18.34" fill="#e5f0fb"/>
<rect x="186.7" y="394.72" width="18.45" height="18.34" fill="#f3f8fe"/>
<rect x="205.1" y="394.72" width="18.45" height="18.34" fill="#0082c6"/>
<rect x="223.5" y="394.72" width="18.45" height="18.34" fill="#f6faff"/>
<rect x="57.9" y="413.01" width="18.45" height="18.34" fill="#f6faff"/>
<rect x="76.3" y="413.01" width="18.45" height="18.34" fill="#0293cd"/>
<rect x="94.7" y="413.01" width="18.45" height="18.34" fill="#f6faff"/>
<rect x="113.1" y="413.01" width="18.45" height="18.34" fill="#f6faff"/>
<rect x="131.5" y="413.01" width="18.45" height="18.34" fill="#e5f0fb"/>
<rect x="149.9" y="413.01" width="18.45" height="18.34" fill="#f6faff"/>
<rect x="168.3" y="413.01" width="18.45" height="18.34" fill="#f6faff"/>
<rect x="186.7" y="413.01" width="18.45" height="18.34" fill="#f6faff"/>
<rect x="205.1" y="413.01" width="18.45" height="18.34" fill="#f6faff"/>
<rect x="223.5" y="413.01" width="18.45" height="18.34" fill="#96cee7"/>
<text class="c" x="67.1" y="259.65" font-size="8.5" fill="#1a1a1a" text-anchor="middle">0.56</text>
<text class="c" x="177.5" y="259.65" font-size="8.5" fill="#1a1a1a" text-anchor="middle">0.15</text>
<text class="c" x="214.3" y="259.65" font-size="8.5" fill="#1a1a1a" text-anchor="middle">0.21</text>
<text class="w" x="85.5" y="277.94" font-size="8.5" fill="#ffffff" text-anchor="middle">0.91</text>
<text class="w" x="103.9" y="296.23" font-size="8.5" fill="#ffffff" text-anchor="middle">0.91</text>
<text class="w" x="122.3" y="314.52" font-size="8.5" fill="#ffffff" text-anchor="middle">0.98</text>
<text class="w" x="140.7" y="332.81" font-size="8.5" fill="#ffffff" text-anchor="middle">0.94</text>
<text class="w" x="159.1" y="351.1" font-size="8.5" fill="#ffffff" text-anchor="middle">0.98</text>
<text class="c" x="177.5" y="369.38" font-size="8.5" fill="#1a1a1a" text-anchor="middle">0.74</text>
<text class="c" x="195.9" y="369.38" font-size="8.5" fill="#1a1a1a" text-anchor="middle">0.21</text>
<text class="c" x="177.5" y="387.68" font-size="8.5" fill="#1a1a1a" text-anchor="middle">0.24</text>
<text class="c" x="195.9" y="387.68" font-size="8.5" fill="#1a1a1a" text-anchor="middle">0.74</text>
<text class="c" x="67.1" y="405.97" font-size="8.5" fill="#1a1a1a" text-anchor="middle">0.19</text>
<text class="c" x="214.3" y="405.97" font-size="8.5" fill="#1a1a1a" text-anchor="middle">0.68</text>
<text class="c" x="85.5" y="424.25" font-size="8.5" fill="#1a1a1a" text-anchor="middle">0.62</text>
<text class="c" x="232.7" y="424.25" font-size="8.5" fill="#1a1a1a" text-anchor="middle">0.33</text>
<rect x="57.9" y="248.4" width="184" height="182.9" fill="none" stroke="#ffffff" stroke-width="2.3"/>
<rect x="57.9" y="248.4" width="184" height="182.9" fill="none" stroke="#5e5e5e" stroke-width="1.5"/>
<line x1="54.9" y1="257.55" x2="57.9" y2="257.55" stroke="#333333" stroke-width="1.0"/>
<line x1="67.1" y1="431.3" x2="67.1" y2="434.3" stroke="#333333" stroke-width="1.0"/>
<line x1="54.9" y1="275.83" x2="57.9" y2="275.83" stroke="#333333" stroke-width="1.0"/>
<line x1="85.5" y1="431.3" x2="85.5" y2="434.3" stroke="#333333" stroke-width="1.0"/>
<line x1="54.9" y1="294.12" x2="57.9" y2="294.12" stroke="#333333" stroke-width="1.0"/>
<line x1="103.9" y1="431.3" x2="103.9" y2="434.3" stroke="#333333" stroke-width="1.0"/>
<line x1="54.9" y1="312.42" x2="57.9" y2="312.42" stroke="#333333" stroke-width="1.0"/>
<line x1="122.3" y1="431.3" x2="122.3" y2="434.3" stroke="#333333" stroke-width="1.0"/>
<line x1="54.9" y1="330.7" x2="57.9" y2="330.7" stroke="#333333" stroke-width="1.0"/>
<line x1="140.7" y1="431.3" x2="140.7" y2="434.3" stroke="#333333" stroke-width="1.0"/>
<line x1="54.9" y1="349" x2="57.9" y2="349" stroke="#333333" stroke-width="1.0"/>
<line x1="159.1" y1="431.3" x2="159.1" y2="434.3" stroke="#333333" stroke-width="1.0"/>
<line x1="54.9" y1="367.28" x2="57.9" y2="367.28" stroke="#333333" stroke-width="1.0"/>
<line x1="177.5" y1="431.3" x2="177.5" y2="434.3" stroke="#333333" stroke-width="1.0"/>
<line x1="54.9" y1="385.57" x2="57.9" y2="385.57" stroke="#333333" stroke-width="1.0"/>
<line x1="195.9" y1="431.3" x2="195.9" y2="434.3" stroke="#333333" stroke-width="1.0"/>
<line x1="54.9" y1="403.87" x2="57.9" y2="403.87" stroke="#333333" stroke-width="1.0"/>
<line x1="214.3" y1="431.3" x2="214.3" y2="434.3" stroke="#333333" stroke-width="1.0"/>
<line x1="54.9" y1="422.15" x2="57.9" y2="422.15" stroke="#333333" stroke-width="1.0"/>
<line x1="232.7" y1="431.3" x2="232.7" y2="434.3" stroke="#333333" stroke-width="1.0"/>
<text class="k" x="50.7" y="260.94" font-size="9.1" fill="#1a1a1a" text-anchor="end">8PSK</text>
<text class="k" x="50.7" y="279.23" font-size="9.1" fill="#1a1a1a" text-anchor="end">AM-DSB</text>
<text class="k" x="50.7" y="297.52" font-size="9.1" fill="#1a1a1a" text-anchor="end">BPSK</text>
<text class="k" x="50.7" y="315.81" font-size="9.1" fill="#1a1a1a" text-anchor="end">CPFSK</text>
<text class="k" x="50.7" y="334.1" font-size="9.1" fill="#1a1a1a" text-anchor="end">GFSK</text>
<text class="k" x="50.7" y="352.39" font-size="9.1" fill="#1a1a1a" text-anchor="end">PAM4</text>
<text class="k" x="50.7" y="370.68" font-size="9.1" fill="#1a1a1a" text-anchor="end">QAM16</text>
<text class="k" x="50.7" y="388.97" font-size="9.1" fill="#1a1a1a" text-anchor="end">QAM64</text>
<text class="k" x="50.7" y="407.26" font-size="9.1" fill="#1a1a1a" text-anchor="end">QPSK</text>
<text class="k" x="50.7" y="425.55" font-size="9.1" fill="#1a1a1a" text-anchor="end">WBFM</text>
<text class="k" x="75.67" y="442.9" font-size="9.1" fill="#1a1a1a" text-anchor="end" transform="rotate(-45 75.67 442.9)">8PSK</text>
<text class="k" x="99.07" y="442.9" font-size="9.1" fill="#1a1a1a" text-anchor="end" transform="rotate(-45 99.07 442.9)">AM-DSB</text>
<text class="k" x="113.01" y="442.9" font-size="9.1" fill="#1a1a1a" text-anchor="end" transform="rotate(-45 113.01 442.9)">BPSK</text>
<text class="k" x="133.2" y="442.9" font-size="9.1" fill="#1a1a1a" text-anchor="end" transform="rotate(-45 133.2 442.9)">CPFSK</text>
<text class="k" x="149.98" y="442.9" font-size="9.1" fill="#1a1a1a" text-anchor="end" transform="rotate(-45 149.98 442.9)">GFSK</text>
<text class="k" x="168.74" y="442.9" font-size="9.1" fill="#1a1a1a" text-anchor="end" transform="rotate(-45 168.74 442.9)">PAM4</text>
<text class="k" x="189.28" y="442.9" font-size="9.1" fill="#1a1a1a" text-anchor="end" transform="rotate(-45 189.28 442.9)">QAM16</text>
<text class="k" x="207.68" y="442.9" font-size="9.1" fill="#1a1a1a" text-anchor="end" transform="rotate(-45 207.68 442.9)">QAM64</text>
<text class="k" x="223.58" y="442.9" font-size="9.1" fill="#1a1a1a" text-anchor="end" transform="rotate(-45 223.58 442.9)">QPSK</text>
<text class="k" x="243.59" y="442.9" font-size="9.1" fill="#1a1a1a" text-anchor="end" transform="rotate(-45 243.59 442.9)">WBFM</text>
<text class="k" x="149.9" y="478.6" font-size="9.2" fill="#1a1a1a" text-anchor="middle">Predicted label</text>
<text class="k" x="10.9" y="339.85" font-size="9.2" fill="#1a1a1a" text-anchor="middle" transform="rotate(-90 10.9 339.85)">True label</text>
<text class="L" x="2.7" y="257.7" font-size="14.2" fill="#1a1a1a">(c)</text>
<rect x="323" y="248.4" width="18" height="17.92" fill="#66bee1"/>
<rect x="340.95" y="248.4" width="18" height="17.92" fill="#f6faff"/>
<rect x="358.9" y="248.4" width="18" height="17.92" fill="#f0f7fe"/>
<rect x="376.85" y="248.4" width="18" height="17.92" fill="#e5f0fb"/>
<rect x="394.8" y="248.4" width="18" height="17.92" fill="#f3f8fe"/>
<rect x="412.75" y="248.4" width="18" height="17.92" fill="#f6faff"/>
<rect x="430.7" y="248.4" width="18" height="17.92" fill="#dfecf9"/>
<rect x="448.65" y="248.4" width="18" height="17.92" fill="#d1e6f6"/>
<rect x="466.6" y="248.4" width="18" height="17.92" fill="#c5e1f3"/>
<rect x="484.55" y="248.4" width="18" height="17.92" fill="#f3f8fe"/>
<rect x="323" y="266.27" width="18" height="17.92" fill="#f6faff"/>
<rect x="340.95" y="266.27" width="18" height="17.92" fill="#03377e"/>
<rect x="358.9" y="266.27" width="18" height="17.92" fill="#f6faff"/>
<rect x="376.85" y="266.27" width="18" height="17.92" fill="#f6faff"/>
<rect x="394.8" y="266.27" width="18" height="17.92" fill="#f6faff"/>
<rect x="412.75" y="266.27" width="18" height="17.92" fill="#f6faff"/>
<rect x="430.7" y="266.27" width="18" height="17.92" fill="#f6faff"/>
<rect x="448.65" y="266.27" width="18" height="17.92" fill="#f6faff"/>
<rect x="466.6" y="266.27" width="18" height="17.92" fill="#f6faff"/>
<rect x="484.55" y="266.27" width="18" height="17.92" fill="#e8f1fb"/>
<rect x="323" y="284.14" width="18" height="17.92" fill="#f3f8fe"/>
<rect x="340.95" y="284.14" width="18" height="17.92" fill="#f6faff"/>
<rect x="358.9" y="284.14" width="18" height="17.92" fill="#0078c3"/>
<rect x="376.85" y="284.14" width="18" height="17.92" fill="#f6faff"/>
<rect x="394.8" y="284.14" width="18" height="17.92" fill="#f6faff"/>
<rect x="412.75" y="284.14" width="18" height="17.92" fill="#bfdef1"/>
<rect x="430.7" y="284.14" width="18" height="17.92" fill="#f6faff"/>
<rect x="448.65" y="284.14" width="18" height="17.92" fill="#f6faff"/>
<rect x="466.6" y="284.14" width="18" height="17.92" fill="#f6faff"/>
<rect x="484.55" y="284.14" width="18" height="17.92" fill="#f6faff"/>
<rect x="323" y="302.01" width="18" height="17.92" fill="#f6faff"/>
<rect x="340.95" y="302.01" width="18" height="17.92" fill="#f6faff"/>
<rect x="358.9" y="302.01" width="18" height="17.92" fill="#f6faff"/>
<rect x="376.85" y="302.01" width="18" height="17.92" fill="#03377e"/>
<rect x="394.8" y="302.01" width="18" height="17.92" fill="#f6faff"/>
<rect x="412.75" y="302.01" width="18" height="17.92" fill="#f6faff"/>
<rect x="430.7" y="302.01" width="18" height="17.92" fill="#f6faff"/>
<rect x="448.65" y="302.01" width="18" height="17.92" fill="#f6faff"/>
<rect x="466.6" y="302.01" width="18" height="17.92" fill="#f6faff"/>
<rect x="484.55" y="302.01" width="18" height="17.92" fill="#f6faff"/>
<rect x="323" y="319.88" width="18" height="17.92" fill="#f6faff"/>
<rect x="340.95" y="319.88" width="18" height="17.92" fill="#f0f7fe"/>
<rect x="358.9" y="319.88" width="18" height="17.92" fill="#f6faff"/>
<rect x="376.85" y="319.88" width="18" height="17.92" fill="#f6faff"/>
<rect x="394.8" y="319.88" width="18" height="17.92" fill="#004999"/>
<rect x="412.75" y="319.88" width="18" height="17.92" fill="#f6faff"/>
<rect x="430.7" y="319.88" width="18" height="17.92" fill="#f6faff"/>
<rect x="448.65" y="319.88" width="18" height="17.92" fill="#f6faff"/>
<rect x="466.6" y="319.88" width="18" height="17.92" fill="#f6faff"/>
<rect x="484.55" y="319.88" width="18" height="17.92" fill="#e2eefa"/>
<rect x="323" y="337.75" width="18" height="17.92" fill="#f6faff"/>
<rect x="340.95" y="337.75" width="18" height="17.92" fill="#f3f8fe"/>
<rect x="358.9" y="337.75" width="18" height="17.92" fill="#f3f8fe"/>
<rect x="376.85" y="337.75" width="18" height="17.92" fill="#f6faff"/>
<rect x="394.8" y="337.75" width="18" height="17.92" fill="#f6faff"/>
<rect x="412.75" y="337.75" width="18" height="17.92" fill="#052d6e"/>
<rect x="430.7" y="337.75" width="18" height="17.92" fill="#f6faff"/>
<rect x="448.65" y="337.75" width="18" height="17.92" fill="#f6faff"/>
<rect x="466.6" y="337.75" width="18" height="17.92" fill="#f6faff"/>
<rect x="484.55" y="337.75" width="18" height="17.92" fill="#f6faff"/>
<rect x="323" y="355.62" width="18" height="17.92" fill="#f0f7fe"/>
<rect x="340.95" y="355.62" width="18" height="17.92" fill="#f6faff"/>
<rect x="358.9" y="355.62" width="18" height="17.92" fill="#f6faff"/>
<rect x="376.85" y="355.62" width="18" height="17.92" fill="#f6faff"/>
<rect x="394.8" y="355.62" width="18" height="17.92" fill="#f6faff"/>
<rect x="412.75" y="355.62" width="18" height="17.92" fill="#f6faff"/>
<rect x="430.7" y="355.62" width="18" height="17.92" fill="#05a0d2"/>
<rect x="448.65" y="355.62" width="18" height="17.92" fill="#72c2e3"/>
<rect x="466.6" y="355.62" width="18" height="17.92" fill="#f6faff"/>
<rect x="484.55" y="355.62" width="18" height="17.92" fill="#f6faff"/>
<rect x="323" y="373.49" width="18" height="17.92" fill="#f6faff"/>
<rect x="340.95" y="373.49" width="18" height="17.92" fill="#f6faff"/>
<rect x="358.9" y="373.49" width="18" height="17.92" fill="#f6faff"/>
<rect x="376.85" y="373.49" width="18" height="17.92" fill="#f6faff"/>
<rect x="394.8" y="373.49" width="18" height="17.92" fill="#f6faff"/>
<rect x="412.75" y="373.49" width="18" height="17.92" fill="#f6faff"/>
<rect x="430.7" y="373.49" width="18" height="17.92" fill="#e8f1fb"/>
<rect x="448.65" y="373.49" width="18" height="17.92" fill="#03377e"/>
<rect x="466.6" y="373.49" width="18" height="17.92" fill="#f6faff"/>
<rect x="484.55" y="373.49" width="18" height="17.92" fill="#f6faff"/>
<rect x="323" y="391.36" width="18" height="17.92" fill="#b6dbee"/>
<rect x="340.95" y="391.36" width="18" height="17.92" fill="#f6faff"/>
<rect x="358.9" y="391.36" width="18" height="17.92" fill="#f0f7fe"/>
<rect x="376.85" y="391.36" width="18" height="17.92" fill="#ebf3fc"/>
<rect x="394.8" y="391.36" width="18" height="17.92" fill="#f3f8fe"/>
<rect x="412.75" y="391.36" width="18" height="17.92" fill="#f6faff"/>
<rect x="430.7" y="391.36" width="18" height="17.92" fill="#dfecf9"/>
<rect x="448.65" y="391.36" width="18" height="17.92" fill="#dfecf9"/>
<rect x="466.6" y="391.36" width="18" height="17.92" fill="#52b8de"/>
<rect x="484.55" y="391.36" width="18" height="17.92" fill="#f6faff"/>
<rect x="323" y="409.23" width="18" height="17.92" fill="#f6faff"/>
<rect x="340.95" y="409.23" width="18" height="17.92" fill="#007ec5"/>
<rect x="358.9" y="409.23" width="18" height="17.92" fill="#f6faff"/>
<rect x="376.85" y="409.23" width="18" height="17.92" fill="#f6faff"/>
<rect x="394.8" y="409.23" width="18" height="17.92" fill="#ebf3fc"/>
<rect x="412.75" y="409.23" width="18" height="17.92" fill="#f6faff"/>
<rect x="430.7" y="409.23" width="18" height="17.92" fill="#f6faff"/>
<rect x="448.65" y="409.23" width="18" height="17.92" fill="#f6faff"/>
<rect x="466.6" y="409.23" width="18" height="17.92" fill="#f6faff"/>
<rect x="484.55" y="409.23" width="18" height="17.92" fill="#b2d9ed"/>
<text class="c" x="331.98" y="259.44" font-size="8.5" fill="#1a1a1a" text-anchor="middle">0.42</text>
<text class="c" x="439.68" y="259.44" font-size="8.5" fill="#1a1a1a" text-anchor="middle">0.11</text>
<text class="c" x="457.62" y="259.44" font-size="8.5" fill="#1a1a1a" text-anchor="middle">0.16</text>
<text class="c" x="475.57" y="259.44" font-size="8.5" fill="#1a1a1a" text-anchor="middle">0.20</text>
<text class="w" x="349.93" y="277.31" font-size="8.5" fill="#ffffff" text-anchor="middle">0.94</text>
<text class="c" x="367.88" y="295.18" font-size="8.5" fill="#1a1a1a" text-anchor="middle">0.71</text>
<text class="c" x="421.73" y="295.18" font-size="8.5" fill="#1a1a1a" text-anchor="middle">0.22</text>
<text class="w" x="385.82" y="313.05" font-size="8.5" fill="#ffffff" text-anchor="middle">0.94</text>
<text class="w" x="403.77" y="330.92" font-size="8.5" fill="#ffffff" text-anchor="middle">0.87</text>
<text class="w" x="421.73" y="348.79" font-size="8.5" fill="#ffffff" text-anchor="middle">0.98</text>
<text class="c" x="439.68" y="366.66" font-size="8.5" fill="#1a1a1a" text-anchor="middle">0.57</text>
<text class="c" x="457.62" y="366.66" font-size="8.5" fill="#1a1a1a" text-anchor="middle">0.40</text>
<text class="w" x="457.62" y="384.52" font-size="8.5" fill="#ffffff" text-anchor="middle">0.94</text>
<text class="c" x="331.98" y="402.39" font-size="8.5" fill="#1a1a1a" text-anchor="middle">0.25</text>
<text class="c" x="439.68" y="402.39" font-size="8.5" fill="#1a1a1a" text-anchor="middle">0.11</text>
<text class="c" x="457.62" y="402.39" font-size="8.5" fill="#1a1a1a" text-anchor="middle">0.11</text>
<text class="c" x="475.57" y="402.39" font-size="8.5" fill="#1a1a1a" text-anchor="middle">0.45</text>
<text class="c" x="349.93" y="420.26" font-size="8.5" fill="#1a1a1a" text-anchor="middle">0.69</text>
<text class="c" x="493.52" y="420.26" font-size="8.5" fill="#1a1a1a" text-anchor="middle">0.26</text>
<rect x="323" y="248.4" width="179.5" height="178.7" fill="none" stroke="#ffffff" stroke-width="2.3"/>
<rect x="323" y="248.4" width="179.5" height="178.7" fill="none" stroke="#5e5e5e" stroke-width="1.5"/>
<line x1="320" y1="257.33" x2="323" y2="257.33" stroke="#333333" stroke-width="1.0"/>
<line x1="331.98" y1="427.1" x2="331.98" y2="430.1" stroke="#333333" stroke-width="1.0"/>
<line x1="320" y1="275.2" x2="323" y2="275.2" stroke="#333333" stroke-width="1.0"/>
<line x1="349.93" y1="427.1" x2="349.93" y2="430.1" stroke="#333333" stroke-width="1.0"/>
<line x1="320" y1="293.07" x2="323" y2="293.07" stroke="#333333" stroke-width="1.0"/>
<line x1="367.88" y1="427.1" x2="367.88" y2="430.1" stroke="#333333" stroke-width="1.0"/>
<line x1="320" y1="310.94" x2="323" y2="310.94" stroke="#333333" stroke-width="1.0"/>
<line x1="385.82" y1="427.1" x2="385.82" y2="430.1" stroke="#333333" stroke-width="1.0"/>
<line x1="320" y1="328.81" x2="323" y2="328.81" stroke="#333333" stroke-width="1.0"/>
<line x1="403.77" y1="427.1" x2="403.77" y2="430.1" stroke="#333333" stroke-width="1.0"/>
<line x1="320" y1="346.69" x2="323" y2="346.69" stroke="#333333" stroke-width="1.0"/>
<line x1="421.73" y1="427.1" x2="421.73" y2="430.1" stroke="#333333" stroke-width="1.0"/>
<line x1="320" y1="364.56" x2="323" y2="364.56" stroke="#333333" stroke-width="1.0"/>
<line x1="439.68" y1="427.1" x2="439.68" y2="430.1" stroke="#333333" stroke-width="1.0"/>
<line x1="320" y1="382.42" x2="323" y2="382.42" stroke="#333333" stroke-width="1.0"/>
<line x1="457.62" y1="427.1" x2="457.62" y2="430.1" stroke="#333333" stroke-width="1.0"/>
<line x1="320" y1="400.29" x2="323" y2="400.29" stroke="#333333" stroke-width="1.0"/>
<line x1="475.57" y1="427.1" x2="475.57" y2="430.1" stroke="#333333" stroke-width="1.0"/>
<line x1="320" y1="418.16" x2="323" y2="418.16" stroke="#333333" stroke-width="1.0"/>
<line x1="493.52" y1="427.1" x2="493.52" y2="430.1" stroke="#333333" stroke-width="1.0"/>
<text class="k" x="316.5" y="261.23" font-size="10" fill="#1a1a1a" text-anchor="end">8PSK</text>
<text class="k" x="316.5" y="279.1" font-size="10" fill="#1a1a1a" text-anchor="end">AM-DSB</text>
<text class="k" x="316.5" y="296.97" font-size="10" fill="#1a1a1a" text-anchor="end">BPSK</text>
<text class="k" x="316.5" y="314.84" font-size="10" fill="#1a1a1a" text-anchor="end">CPFSK</text>
<text class="k" x="316.5" y="332.71" font-size="10" fill="#1a1a1a" text-anchor="end">GFSK</text>
<text class="k" x="316.5" y="350.58" font-size="10" fill="#1a1a1a" text-anchor="end">PAM4</text>
<text class="k" x="316.5" y="368.45" font-size="10" fill="#1a1a1a" text-anchor="end">QAM16</text>
<text class="k" x="316.5" y="386.32" font-size="10" fill="#1a1a1a" text-anchor="end">QAM64</text>
<text class="k" x="316.5" y="404.19" font-size="10" fill="#1a1a1a" text-anchor="end">QPSK</text>
<text class="k" x="316.5" y="422.06" font-size="10" fill="#1a1a1a" text-anchor="end">WBFM</text>
<text class="k" x="341.29" y="438.7" font-size="10" fill="#1a1a1a" text-anchor="end" transform="rotate(-45 341.29 438.7)">8PSK</text>
<text class="k" x="364.74" y="438.7" font-size="10" fill="#1a1a1a" text-anchor="end" transform="rotate(-45 364.74 438.7)">AM-DSB</text>
<text class="k" x="377.78" y="438.7" font-size="10" fill="#1a1a1a" text-anchor="end" transform="rotate(-45 377.78 438.7)">BPSK</text>
<text class="k" x="397.69" y="438.7" font-size="10" fill="#1a1a1a" text-anchor="end" transform="rotate(-45 397.69 438.7)">CPFSK</text>
<text class="k" x="413.87" y="438.7" font-size="10" fill="#1a1a1a" text-anchor="end" transform="rotate(-45 413.87 438.7)">GFSK</text>
<text class="k" x="432.21" y="438.7" font-size="10" fill="#1a1a1a" text-anchor="end" transform="rotate(-45 432.21 438.7)">PAM4</text>
<text class="k" x="452.52" y="438.7" font-size="10" fill="#1a1a1a" text-anchor="end" transform="rotate(-45 452.52 438.7)">QAM16</text>
<text class="k" x="470.47" y="438.7" font-size="10" fill="#1a1a1a" text-anchor="end" transform="rotate(-45 470.47 438.7)">QAM64</text>
<text class="k" x="485.67" y="438.7" font-size="10" fill="#1a1a1a" text-anchor="end" transform="rotate(-45 485.67 438.7)">QPSK</text>
<text class="k" x="505.39" y="438.7" font-size="10" fill="#1a1a1a" text-anchor="end" transform="rotate(-45 505.39 438.7)">WBFM</text>
<text class="k" x="412.75" y="478.6" font-size="10.3" fill="#1a1a1a" text-anchor="middle">Predicted label</text>
<text class="k" x="272.5" y="337.75" font-size="10.3" fill="#1a1a1a" text-anchor="middle" transform="rotate(-90 272.5 337.75)">True label</text>
<text class="L" x="262.6" y="259.5" font-size="15.2" fill="#1a1a1a">(d)</text>
<defs><linearGradient id="gd" x1="0" y1="0" x2="0" y2="1"><stop offset="0.00" stop-color="#052d6e"/><stop offset="0.05" stop-color="#033982"/><stop offset="0.10" stop-color="#004696"/><stop offset="0.15" stop-color="#0254a4"/><stop offset="0.20" stop-color="#0462b2"/><stop offset="0.25" stop-color="#0470bf"/><stop offset="0.30" stop-color="#0080c6"/><stop offset="0.35" stop-color="#018ecb"/><stop offset="0.40" stop-color="#049bd0"/><stop offset="0.45" stop-color="#18a6d5"/><stop offset="0.50" stop-color="#37b0da"/><stop offset="0.55" stop-color="#58badf"/><stop offset="0.60" stop-color="#76c3e3"/><stop offset="0.65" stop-color="#90cce6"/><stop offset="0.70" stop-color="#a5d4ea"/><stop offset="0.75" stop-color="#b7dbef"/><stop offset="0.80" stop-color="#c7e2f3"/><stop offset="0.85" stop-color="#d5e8f7"/><stop offset="0.90" stop-color="#e2eefa"/><stop offset="0.95" stop-color="#ecf4fc"/><stop offset="1.00" stop-color="#f6faff"/></linearGradient></defs>
<rect x="520" y="248.6" width="8.7" height="178.6" fill="url(#gd)"/>
<rect x="520" y="248.6" width="8.7" height="178.6" fill="none" stroke="#262626" stroke-width="1.1"/>
<line x1="528.7" y1="427.2" x2="531.7" y2="427.2" stroke="#333333" stroke-width="1.0"/>
<text class="k" x="534.5" y="430.6" font-size="10" fill="#1a1a1a">0.0</text>
<line x1="528.7" y1="390.75" x2="531.7" y2="390.75" stroke="#333333" stroke-width="1.0"/>
<text class="k" x="534.5" y="394.15" font-size="10" fill="#1a1a1a">0.2</text>
<line x1="528.7" y1="354.3" x2="531.7" y2="354.3" stroke="#333333" stroke-width="1.0"/>
<text class="k" x="534.5" y="357.7" font-size="10" fill="#1a1a1a">0.4</text>
<line x1="528.7" y1="317.85" x2="531.7" y2="317.85" stroke="#333333" stroke-width="1.0"/>
<text class="k" x="534.5" y="321.25" font-size="10" fill="#1a1a1a">0.6</text>
<line x1="528.7" y1="281.4" x2="531.7" y2="281.4" stroke="#333333" stroke-width="1.0"/>
<text class="k" x="534.5" y="284.8" font-size="10" fill="#1a1a1a">0.8</text>
</svg></body></html>
